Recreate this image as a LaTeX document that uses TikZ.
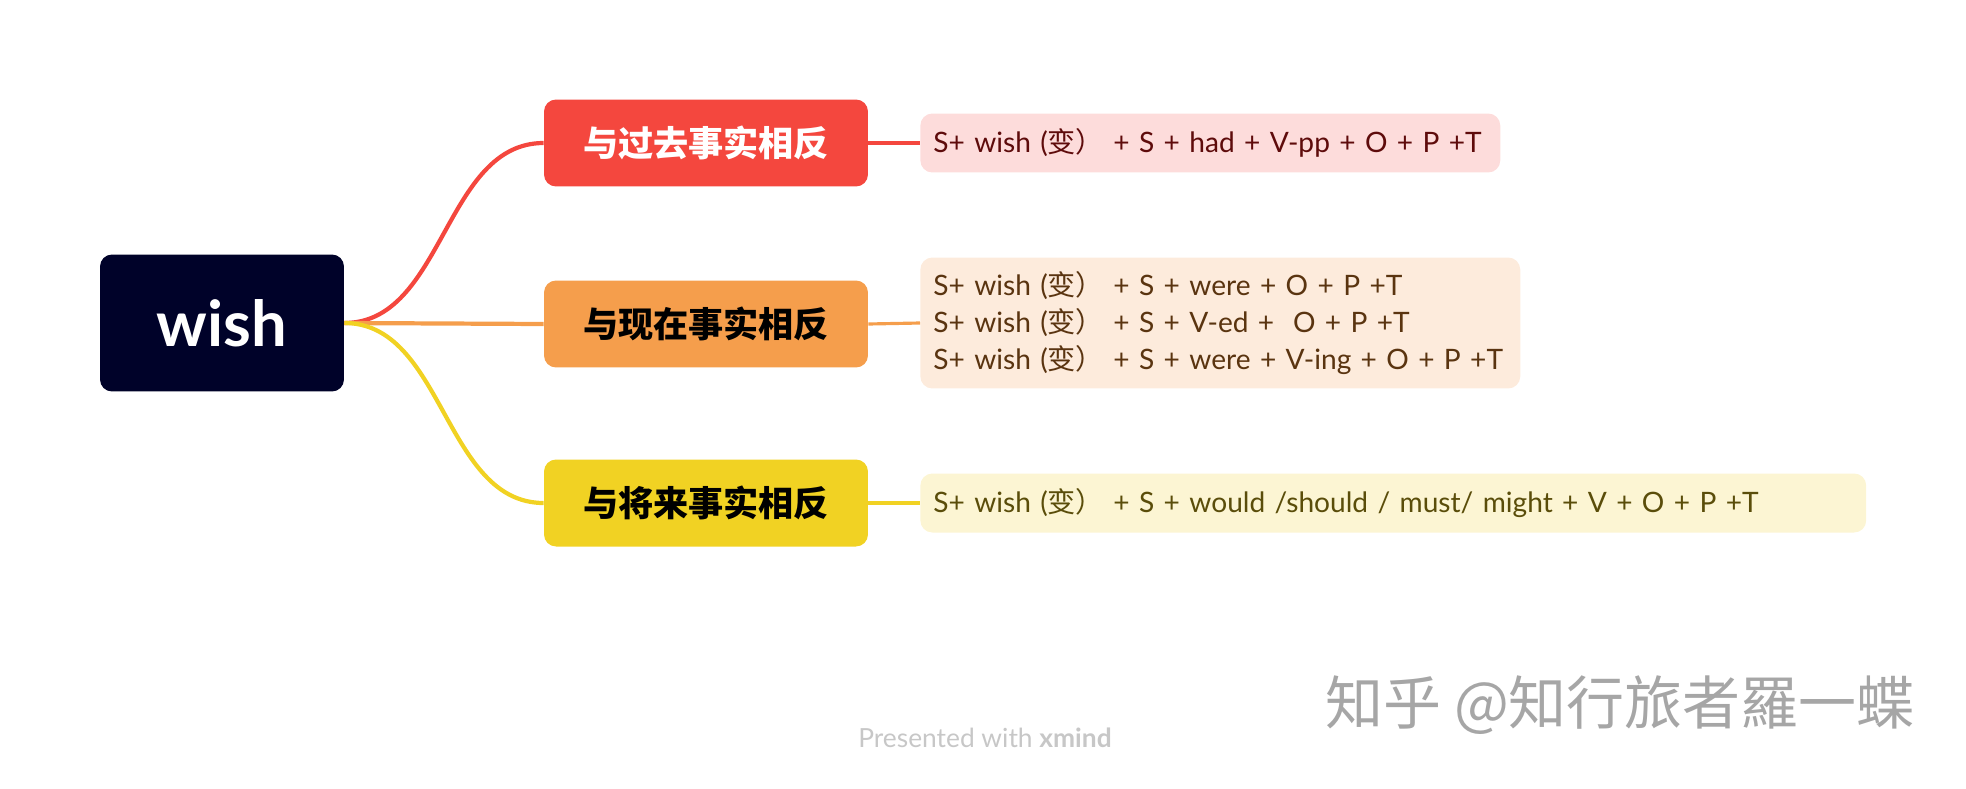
\documentclass[tikz,border=0pt]{standalone}
\usepackage{fontspec}
\setmainfont{Lato}
\newfontfamily\cjk{Noto Sans CJK SC}
\definecolor{rootblue}{HTML}{000229}
\definecolor{topicred}{HTML}{F4473E}
\definecolor{topicorange}{HTML}{F59E4C}
\definecolor{topicyellow}{HTML}{F1D223}
\definecolor{notered}{HTML}{FDDCDB}
\definecolor{noteorange}{HTML}{FDEBDC}
\definecolor{noteyellow}{HTML}{FCF5D3}
\definecolor{inkred}{HTML}{5E0B0B}
\definecolor{inkorange}{HTML}{5A3410}
\definecolor{inkyellow}{HTML}{5A4D0A}
\newcommand{\bian}{{\cjk 变）}}
\begin{document}
\begin{tikzpicture}[x=0.02cm,y=-0.02cm,
    rootbox/.style={fill=rootblue, rounded corners=0.24cm, minimum width=4.88cm,
      minimum height=2.74cm, text=white, font=\bfseries\fontsize{36}{40}\selectfont},
    topicbox/.style={rounded corners=0.24cm, minimum width=6.48cm, minimum height=1.74cm,
      font=\cjk\bfseries\fontsize{20}{24}\selectfont},
    notebox/.style={anchor=west, rounded corners=0.24cm, inner xsep=0.26cm, align=left,
      font=\fontsize{16}{20.8}\selectfont, minimum height=1.18cm},
    branch/.style={line width=2.4pt},
    twig/.style={line width=1.8pt}]
    \useasboundingbox (0,0) rectangle (1966,788);
    %% central topic
    \node[rootbox] (wish) at (222,323) {wish};
    %% main topics
    \node[topicbox, fill=topicred, text=white] (past) at (706,143) {与过去事实相反};
    \node[topicbox, fill=topicorange] (now) at (706,324) {与现在事实相反};
    \node[topicbox, fill=topicyellow] (future) at (706,503) {与将来事实相反};
    %% notes
    \node[notebox, fill=notered, text=inkred, text width=11.08cm] (pastnote) at (920,143)
      {S+ wish (\bian\ + S + had + V-pp + O + P +T};
    \node[notebox, fill=noteorange, text=inkorange, text width=11.48cm, minimum height=2.62cm] (nownote) at (920,323)
      {S+ wish (\bian\ + S + were + O + P +T\\
       S+ wish (\bian\ + S + V-ed +\ \ O + P +T\\
       S+ wish (\bian\ + S + were + V-ing + O + P +T};
    \node[notebox, fill=noteyellow, text=inkyellow, text width=18.4cm] (futurenote) at (920,503)
      {S+ wish (\bian\ + S + would /should / must/ might + V + O + P +T};
    %% branches
    \draw[branch, topicred] (wish.east) .. controls (444,323) and (444,143) .. (past.west);
    \draw[branch, topicorange] (wish.east) -- (now.west);
    \draw[branch, topicyellow] (wish.east) .. controls (444,323) and (444,503) .. (future.west);
    \draw[twig, topicred] (past.east) -- (pastnote.west);
    \draw[twig, topicorange] (now.east) -- (nownote.west);
    \draw[twig, topicyellow] (future.east) -- (futurenote.west);
    %% footer
    \node[text=black!22, font=\fontsize{15}{17}\selectfont] (credit) at (985,738)
      {Presented with \textbf{xmind}};
    \node[text=black!35, font=\cjk\fontsize{33}{36}\selectfont] (mark) at (1620,705)
      {知乎 @知行旅者羅一蝶};
\end{tikzpicture}
\end{document}
